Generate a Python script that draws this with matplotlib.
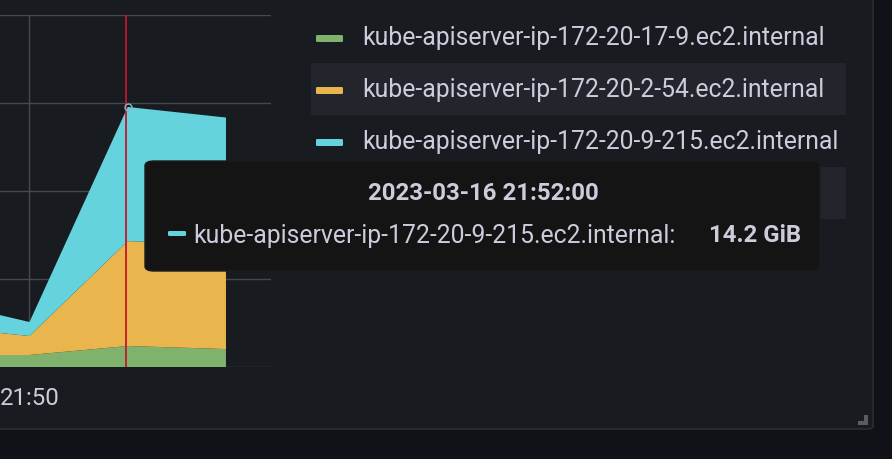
import numpy as np
import matplotlib
matplotlib.use("Agg")
import matplotlib.pyplot as plt
import matplotlib.dates as mdates
from matplotlib.patches import FancyBboxPatch, Rectangle

# ---- data (GiB, stacked) ----
times = np.array(["2023-03-16T21:48:00", "2023-03-16T21:50:00",
                  "2023-03-16T21:52:00", "2023-03-16T21:54:00"], dtype="datetime64[s]")
series_names = ["kube-apiserver-ip-172-20-17-9.ec2.internal",
                "kube-apiserver-ip-172-20-2-54.ec2.internal",
                "kube-apiserver-ip-172-20-9-215.ec2.internal"]
green_vals = [1.27, 1.27, 2.22, 1.90]
orange_vals = [3.07, 2.01, 11.1, 11.1]
cyan_vals = [2.86, 1.48, 14.2, 13.4]
series_colors = ["#7eb26d", "#eab54c", "#64d3de"]

hover_time = np.datetime64("2023-03-16T21:51:58")
tooltip_title = "2023-03-16 21:52:00"
tooltip_series = series_names[2]
tooltip_value = "14.2 GiB"

W, H = 892, 460
fig = plt.figure(figsize=(W / 100, H / 100), dpi=100, facecolor="#111217")
plt.rcParams["font.family"] = ["Roboto", "DejaVu Sans"]
txt_col = "#ccccdc"
fs = 17.8      # regular text
fs_b = 17.3    # bold text


def fx(px):
    return px / W


def fy(py):
    return 1 - py / H


# panel background
fig.add_artist(FancyBboxPatch((fx(-20), fy(430)), fx(893), 470 / H,
                              boxstyle="round,pad=0,rounding_size=0.006",
                              transform=fig.transFigure, facecolor="#181b1f",
                              edgecolor="#2a2d33", linewidth=1.2, zorder=-5))
# resize handle
fig.add_artist(Rectangle((fx(864), fy(426)), fx(4), 10 / H, transform=fig.transFigure,
                         facecolor="#5a5c60", edgecolor="none"))
fig.add_artist(Rectangle((fx(858), fy(426)), fx(10), 4 / H, transform=fig.transFigure,
                         facecolor="#5a5c60", edgecolor="none"))

# ---- plot ----
ax = fig.add_axes([0, fy(368), fx(271), (368 - 16) / H])
ax.set_facecolor("none")
t = times.astype("O")
ax.stackplot(t, green_vals, orange_vals, cyan_vals, colors=series_colors,
             linewidth=0.6, edgecolor=None)
gib_step = 1e10 / 2 ** 30
ax.set_ylim(0, 4 * gib_step)
ax.set_yticks(np.arange(5) * gib_step)
t0 = np.datetime64("2023-03-16T21:50:00")
left = t0 - np.timedelta64(int(30 / 49 * 60), "s")
right = t0 + np.timedelta64(int(241 / 49 * 60), "s")
ax.set_xlim(left.astype("O"), right.astype("O"))
ax.xaxis.set_major_locator(mdates.MinuteLocator(byminute=range(0, 60, 5)))
ax.xaxis.set_major_formatter(mdates.DateFormatter("%H:%M"))
ax.grid(True, color="#45484d", linewidth=1)
ax.set_axisbelow(True)
for s in ax.spines.values():
    s.set_visible(False)
ax.tick_params(axis="both", length=0, colors=txt_col, labelsize=fs_b)
ax.tick_params(axis="x", pad=14)
ax.set_yticklabels([])
ax.axvline(hover_time.astype("O"), color="#c4162a", linewidth=1.3)
ax.plot([times[2].astype("O")], [green_vals[2] + orange_vals[2] + cyan_vals[2]], "o",
        ms=5, mfc="none", mec="#7fbfc8", mew=1, clip_on=False)

# ---- legend ----
row_y = [38, 90, 142, 194]
for i, yc in enumerate(row_y):
    if i % 2 == 1:
        fig.add_artist(Rectangle((fx(311), fy(yc + 26)), fx(535), 52 / H,
                                 transform=fig.transFigure, facecolor="#22252b",
                                 edgecolor="none", zorder=-4))
for name, col, yc in zip(series_names, series_colors, row_y):
    fig.add_artist(FancyBboxPatch((fx(316), fy(yc + 5)), fx(27), 7 / H,
                                  boxstyle="round,pad=0,rounding_size=0.002",
                                  transform=fig.transFigure, facecolor=col,
                                  edgecolor="none"))
    fig.text(fx(362), fy(yc), name, color=txt_col, fontsize=fs, va="center")

# ---- tooltip ----
fig.add_artist(FancyBboxPatch((fx(145), fy(272)), fx(675), 110 / H,
                              boxstyle="round,pad=0,rounding_size=0.01",
                              transform=fig.transFigure, facecolor="#141414",
                              edgecolor="#1c1c1e", linewidth=1, zorder=5))
fig.text(fx(483), fy(193), tooltip_title, color=txt_col, fontsize=fs_b,
         fontweight="bold", ha="center", va="center", zorder=6)
fig.add_artist(FancyBboxPatch((fx(168), fy(237)), fx(18), 5 / H,
                              boxstyle="round,pad=0,rounding_size=0.002",
                              transform=fig.transFigure, facecolor=series_colors[2],
                              edgecolor="none", zorder=6))
fig.text(fx(193), fy(236), tooltip_series + ":", color=txt_col, fontsize=fs,
         va="center", zorder=6)
fig.text(fx(801), fy(236), tooltip_value, color=txt_col, fontsize=fs_b,
         fontweight="bold", ha="right", va="center", zorder=6)

fig.savefig("out.png", dpi=100, facecolor=fig.get_facecolor())
